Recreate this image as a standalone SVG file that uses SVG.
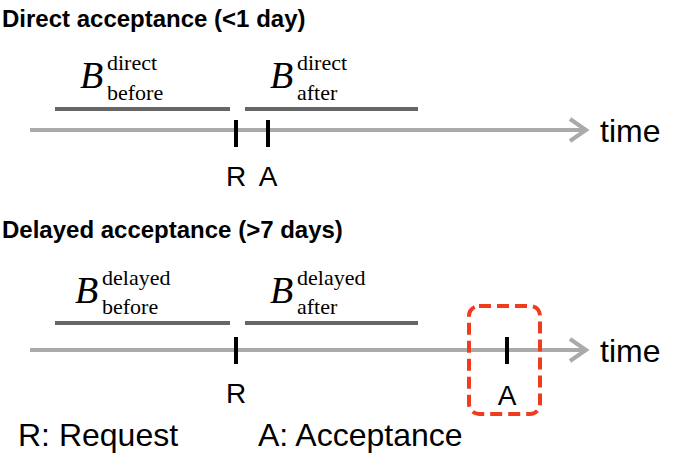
<svg xmlns="http://www.w3.org/2000/svg" width="686" height="453" viewBox="0 0 686 453">
<style>
.t{font-family:"Liberation Sans",Arial,sans-serif;fill:#000}
.h{font-size:24px;font-weight:bold}
.l{font-size:28px}
.big{font-size:32px}
.m{font-family:"Liberation Serif","Times New Roman",serif;fill:#000}
.bar{stroke:#666;stroke-width:4}
.axis{stroke:#aaa;stroke-width:4;fill:none}
.tick{stroke:#000;stroke-width:4}
</style>
<rect width="686" height="453" fill="#fff"/>
<text class="t h" x="2" y="27">Direct acceptance (&lt;1 day)</text>
<text class="t h" x="2" y="238">Delayed acceptance (&gt;7 days)</text>
<g id="connectors">
<line class="axis" x1="30" y1="130" x2="585" y2="130"/>
<polyline class="axis" points="570,119 586,130 570,141"/>
<line class="axis" x1="30" y1="350" x2="585" y2="350"/>
<polyline class="axis" points="570,339 586,350 570,361"/>
</g>
<g id="direct">
<line class="bar" x1="55" y1="109" x2="230" y2="109"/>
<line class="bar" x1="245" y1="109" x2="418" y2="109"/>
<text class="m" x="80" y="88" font-size="38" font-style="italic">B</text>
<text class="m" x="107" y="70" font-size="22">direct</text>
<text class="m" x="107" y="100" font-size="22">before</text>
<text class="m" x="270" y="88" font-size="38" font-style="italic">B</text>
<text class="m" x="297" y="70" font-size="22">direct</text>
<text class="m" x="297" y="100" font-size="22">after</text>
<line class="tick" x1="236" y1="120" x2="236" y2="147"/>
<line class="tick" x1="268" y1="120" x2="268" y2="147"/>
<text class="t l" x="236" y="186" text-anchor="middle">R</text>
<text class="t l" x="268" y="186" text-anchor="middle">A</text>
<text class="t big" x="600" y="142">time</text>
</g>
<g id="delayed">
<line class="bar" x1="55" y1="323" x2="230" y2="323"/>
<line class="bar" x1="245" y1="323" x2="418" y2="323"/>
<text class="m" x="75" y="303" font-size="38" font-style="italic">B</text>
<text class="m" x="102" y="285" font-size="22">delayed</text>
<text class="m" x="102" y="314" font-size="22">before</text>
<text class="m" x="270" y="303" font-size="38" font-style="italic">B</text>
<text class="m" x="297" y="285" font-size="22">delayed</text>
<text class="m" x="297" y="314" font-size="22">after</text>
<line class="tick" x1="236" y1="337" x2="236" y2="364"/>
<text class="t l" x="236" y="403" text-anchor="middle">R</text>
<rect x="469" y="306" width="71" height="108" rx="10" fill="none" stroke="#f03c1e" stroke-width="4" stroke-dasharray="12,6"/>
<line class="tick" x1="507" y1="337" x2="507" y2="364"/>
<text class="t l" x="507" y="405" text-anchor="middle">A</text>
<text class="t big" x="600" y="362">time</text>
</g>
<g id="legend">
<text class="t big" x="18" y="446">R: Request</text>
<text class="t big" x="258" y="446">A: Acceptance</text>
</g>
</svg>
